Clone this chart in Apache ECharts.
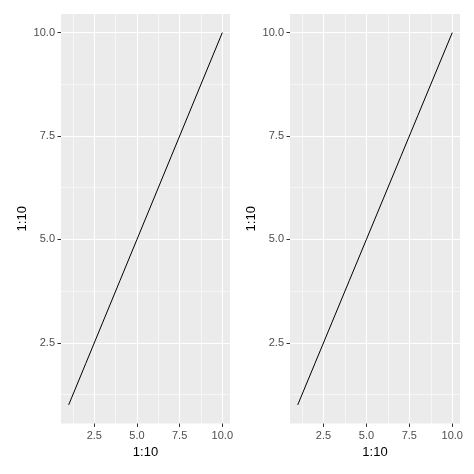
<!DOCTYPE html>
<html><head><meta charset="utf-8">
<script src="https://cdn.jsdelivr.net/npm/echarts@6/dist/echarts.min.js"></script>
<style>html,body{margin:0;padding:0;background:#fff}#c{width:474px;height:474px}</style>
</head><body><div id="c"></div>
<script>
const xValues = [1,2,3,4,5,6,7,8,9,10];
const yValues = [1,2,3,4,5,6,7,8,9,10];
const majorTicks = [2.5, 5, 7.5, 10];
const minorTicks = [1.25, 3.75, 6.25, 8.75];
const axisTitle = '1:10';
const axisMin = 0.55, axisMax = 10.45;

const font = 'Liberation Sans, Arial, sans-serif';
const grids = [
  {left: 61, right: 244, top: 14, bottom: 50.5},
  {left: 290, right: 14, top: 14, bottom: 50.5}
];
const xAxes = [], yAxes = [], series = [];
grids.forEach((g, i) => {
  g.show = true; g.backgroundColor = '#EBEBEB'; g.borderWidth = 0;
  // major axis
  xAxes.push({
    type: 'value', gridIndex: i, min: axisMin, max: axisMax,
    name: axisTitle, nameLocation: 'middle', nameGap: 22,
    nameTextStyle: {color: '#000', fontSize: 13, fontFamily: font},
    axisLine: {show: false},
    axisTick: {show: true, length: 3.5, customValues: majorTicks, lineStyle: {color: '#333333', width: 1}},
    axisLabel: {customValues: majorTicks, color: '#4D4D4D', fontSize: 11, fontFamily: font, margin: 7,
      formatter: v => v.toFixed(1)},
    splitLine: {show: true, lineStyle: {color: '#fff', width: 1.1}}
  });
  xAxes.push({
    type: 'value', gridIndex: i, min: axisMin, max: axisMax, position: 'bottom',
    axisLine: {show: false}, axisLabel: {show: false},
    axisTick: {show: false, customValues: minorTicks},
    splitLine: {show: true, lineStyle: {color: '#fff', width: 0.55}}
  });
  yAxes.push({
    type: 'value', gridIndex: i, min: axisMin, max: axisMax,
    name: axisTitle, nameLocation: 'middle', nameGap: 32, nameRotate: 90,
    nameTextStyle: {color: '#000', fontSize: 13, fontFamily: font},
    axisLine: {show: false},
    axisTick: {show: true, length: 3.5, customValues: majorTicks, lineStyle: {color: '#333333', width: 1}},
    axisLabel: {customValues: majorTicks, color: '#4D4D4D', fontSize: 11, fontFamily: font, margin: 6,
      formatter: v => v.toFixed(1)},
    splitLine: {show: true, lineStyle: {color: '#fff', width: 1.1}}
  });
  yAxes.push({
    type: 'value', gridIndex: i, min: axisMin, max: axisMax, position: 'left',
    axisLine: {show: false}, axisLabel: {show: false},
    axisTick: {show: false, customValues: minorTicks},
    splitLine: {show: true, lineStyle: {color: '#fff', width: 0.55}}
  });
  series.push({
    type: 'line', xAxisIndex: i*2, yAxisIndex: i*2, z: 5,
    data: xValues.map((x, k) => [x, yValues[k]]),
    showSymbol: false, symbol: 'none',
    lineStyle: {color: '#000', width: 1}, animation: false
  });
});
const chart = echarts.init(document.getElementById('c'), null, {renderer: 'canvas'});
chart.setOption({animation: false, grid: grids, xAxis: xAxes, yAxis: yAxes, series});
</script></body></html>
